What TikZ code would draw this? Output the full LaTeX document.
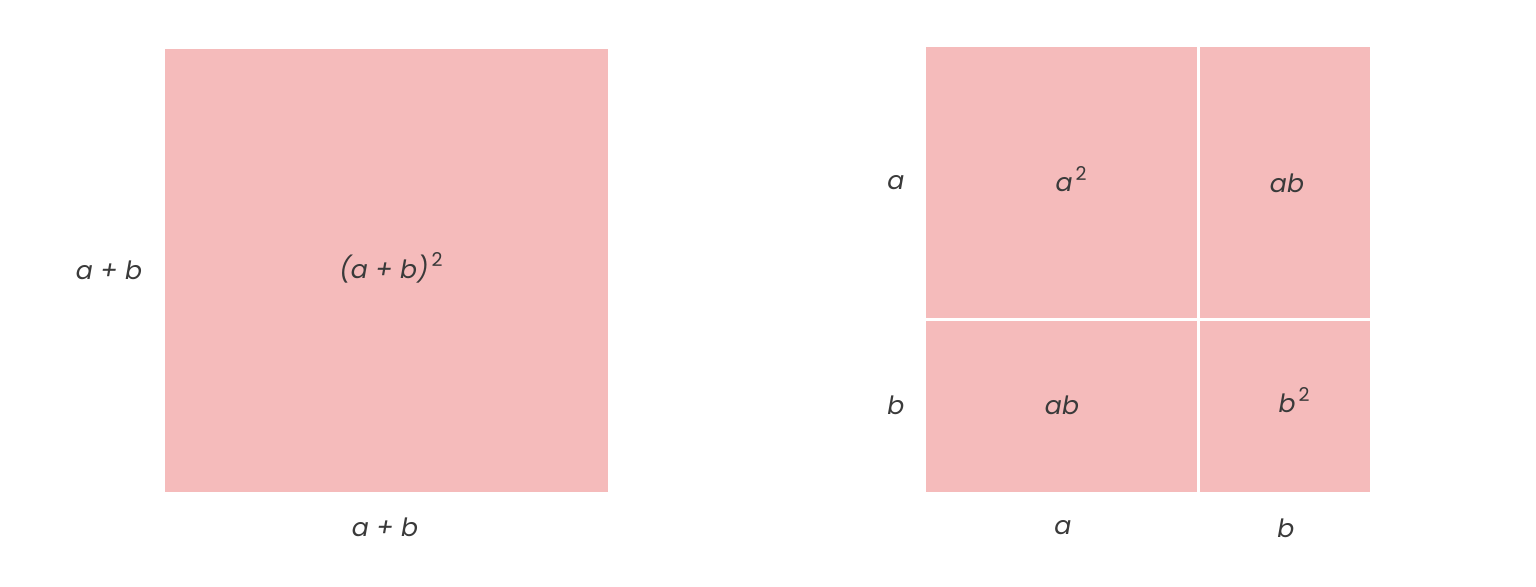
\documentclass[tikz,border=0pt]{standalone}
\usepackage{fontspec}
\setmainfont{Poppins}
\usepackage{tikz}
\definecolor{Blush}{HTML}{F5BBBB}
\definecolor{Ink}{HTML}{3A3A3A}
\newcommand{\sq}{\kern0.12em\raisebox{0.85ex}{\upshape\fontsize{9.5}{11}\selectfont 2}}
\tikzset{
  tile/.style={fill=Blush},
  seam/.style={draw=white, line width=1.5pt},
  lbl/.style={text=Ink, font=\itshape\fontsize{12.6}{15}\selectfont, inner sep=0pt},
}
\begin{document}
\begin{tikzpicture}[x=0.5pt, y=-0.5pt]
  \useasboundingbox (0,0) rectangle (1536,586);
  % left square
  \fill[tile] (165,49) rectangle (608,492);
  \node[lbl] (sumsq) at (391,268) {(a + b)\sq};
  \node[lbl] (leftside) at (109,270) {a + b};
  \node[lbl] (leftbase) at (385,527) {a + b};
  % right square, split into four
  \fill[tile] (926,47) rectangle (1370,492);
  \draw[seam] (1198,47) -- (1198,492);
  \draw[seam] (926,319) -- (1370,319);
  \node[lbl] (asq) at (1071,179) {a\sq};
  \node[lbl] (abtop) at (1287,183) {ab};
  \node[lbl] (abbot) at (1062,405) {ab};
  \node[lbl] (bsq) at (1294,400) {b\sq};
  \node[lbl] (sidea) at (896,183) {a};
  \node[lbl] (sideb) at (896,405) {b};
  \node[lbl] (basea) at (1063,528) {a};
  \node[lbl] (baseb) at (1286,528) {b};
\end{tikzpicture}
\end{document}
